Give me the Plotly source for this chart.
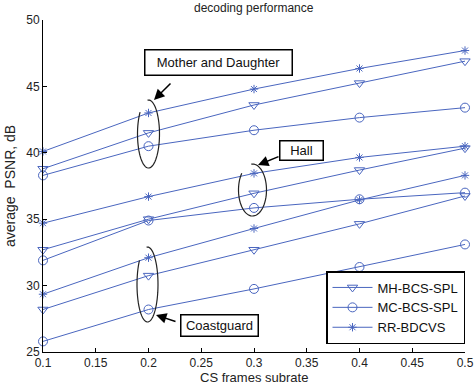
import numpy as np
import plotly.graph_objects as go

# ---------------- data ----------------
subrate = [0.1, 0.2, 0.3, 0.4, 0.5]

md_mh = [38.8, 41.5, 43.6, 45.25, 46.9]
md_mc = [38.3, 40.5, 41.7, 42.65, 43.4]
md_rr = [40.1, 43.0, 44.8, 46.35, 47.7]

hall_mh = [32.7, 35.0, 36.95, 38.7, 40.35]
hall_mc = [31.9, 34.9, 35.85, 36.5, 37.0]
hall_rr = [34.7, 36.7, 38.45, 39.65, 40.5]

cg_mh = [28.2, 30.75, 32.7, 34.65, 36.75]
cg_mc = [25.8, 28.2, 29.75, 31.4, 33.1]
cg_rr = [29.35, 32.1, 34.3, 36.45, 38.3]

methods = ["MH-BCS-SPL", "MC-BCS-SPL", "RR-BDCVS"]
x_ticks = [0.1, 0.15, 0.2, 0.25, 0.3, 0.35, 0.4, 0.45, 0.5]
x_tick_labels = ["0.1", "0.15", "0.2", "0.25", "0.3", "0.35", "0.4", "0.45", "0.5"]
y_ticks = [25, 30, 35, 40, 45, 50]

# ---------------- style ----------------
W, H = 474, 387
PL, PR, PT, PB = 43, 465, 20, 352   # plot area in page pixels
ML, MT = PL, PT
MR, MB = W - PR, H - PB
PW, PH = PR - PL, PB - PT
XR, YR = (0.1, 0.5), (25, 50)
BLUE = "#4a66bf"
FONT = "Liberation Sans, Arial, Helvetica, sans-serif"
symbols = {"MH-BCS-SPL": "triangle-down-open", "MC-BCS-SPL": "circle-open", "RR-BDCVS": "asterisk-open"}
msizes = {"MH-BCS-SPL": 9, "MC-BCS-SPL": 9, "RR-BDCVS": 7}


def px2x(px):
    return XR[0] + (px - PL) / PW * (XR[1] - XR[0])


def py2y(py):
    return YR[0] + (PB - py) / PH * (YR[1] - YR[0])


fig = go.Figure()
groups = [
    (md_mh, md_mc, md_rr),
    (hall_mh, hall_mc, hall_rr),
    (cg_mh, cg_mc, cg_rr),
]
for gi, grp in enumerate(groups):
    for name, vals in zip(methods, grp):
        fig.add_trace(go.Scatter(
            x=subrate, y=vals, name=name, legendgroup=name,
            showlegend=(gi == 0), mode="lines+markers", cliponaxis=False,
            line=dict(color=BLUE, width=1),
            marker=dict(symbol=symbols[name], size=msizes[name], color=BLUE,
                        line=dict(color=BLUE, width=1)),
        ))

# ---------------- ellipse arcs (annotation decoration) ----------------
def arc_path(cx, cy, rx, ry, a0=140, a1=455):
    t = np.radians(np.linspace(a0, a1, 60))
    xs = [px2x(cx + rx * np.cos(a)) for a in t]
    ys = [py2y(cy - ry * np.sin(a)) for a in t]
    return "M " + " L ".join(f"{x:.5f},{y:.4f}" for x, y in zip(xs, ys))

shapes = []
for (cx, cy, rx, ry) in [(148.5, 134, 11, 34), (252.5, 190, 14, 26), (147.5, 284.5, 10.5, 37.5)]:
    shapes.append(dict(type="path", xref="x", yref="y", path=arc_path(cx, cy, rx, ry),
                       line=dict(color="#222222", width=1.2)))

annotations = []
# text boxes
for text, cx, cy, w, h in [("Mother and Daughter", 218, 62, 144, 22),
                           ("Hall", 301, 150, 40, 16),
                           ("Coastguard", 219, 325, 74, 18)]:
    annotations.append(dict(x=px2x(cx), y=py2y(cy), xref="x", yref="y", text=text,
                            showarrow=False, xanchor="center", yanchor="middle",
                            width=w, height=h, borderpad=1,
                            bordercolor="black", borderwidth=1.5, bgcolor="white",
                            font=dict(family=FONT, size=13, color="#111111")))
# arrows
for hx, hy, ax, ay in [(154, 100, 18, -18), (258, 165, 22, -9), (156, 315, 21, 7)]:
    annotations.append(dict(x=px2x(hx), y=py2y(hy), xref="x", yref="y", text="",
                            showarrow=True, ax=ax, ay=ay, arrowhead=2, arrowsize=1.4,
                            arrowwidth=1.5, arrowcolor="black", standoff=0))
# title and axis titles
annotations.append(dict(x=0.5, y=1, xref="paper", yref="paper", yanchor="bottom", yshift=3,
                        text="decoding performance", showarrow=False,
                        font=dict(family=FONT, size=12, color="#222222")))
annotations.append(dict(x=0.5, y=-(387 - PB) / PH, xref="paper", yref="paper",
                        yanchor="bottom", text="CS frames subrate", showarrow=False,
                        font=dict(family=FONT, size=13, color="#222222")))
annotations.append(dict(x=(10 - PL) / PW, y=0.5, xref="paper", yref="paper",
                        xanchor="center", yanchor="middle", textangle=-90,
                        text="average  PSNR, dB", showarrow=False,
                        font=dict(family=FONT, size=14, color="#222222")))

fig.update_layout(
    width=W, height=H,
    margin=dict(l=ML, r=MR, t=MT, b=MB, autoexpand=False),
    paper_bgcolor="white", plot_bgcolor="white",
    font=dict(family=FONT, size=12, color="#222222"),
    shapes=shapes, annotations=annotations,
    legend=dict(x=1, xanchor="right", y=(PB - 344) / PH, yanchor="bottom",
                bordercolor="black", borderwidth=1.5, bgcolor="white",
                font=dict(family=FONT, size=13, color="#111111"),
                tracegroupgap=0, itemwidth=40),
)
fig.update_xaxes(range=list(XR), tickvals=x_ticks, ticktext=x_tick_labels,
                 automargin=False,
                 showgrid=False, zeroline=False, showline=True, linecolor="black",
                 linewidth=1, ticks="inside", ticklen=4, tickcolor="black",
                 tickfont=dict(family=FONT, size=12, color="#222222"))
fig.update_yaxes(range=list(YR), tickvals=y_ticks, automargin=False,
                 showgrid=False, zeroline=False, showline=True, linecolor="black",
                 linewidth=1, ticks="inside", ticklen=4, tickcolor="black",
                 tickfont=dict(family=FONT, size=12, color="#222222"))

fig.write_html("out.html", config={"displayModeBar": False},
               post_script="document.body.style.margin='0';document.body.style.overflow='hidden';")
